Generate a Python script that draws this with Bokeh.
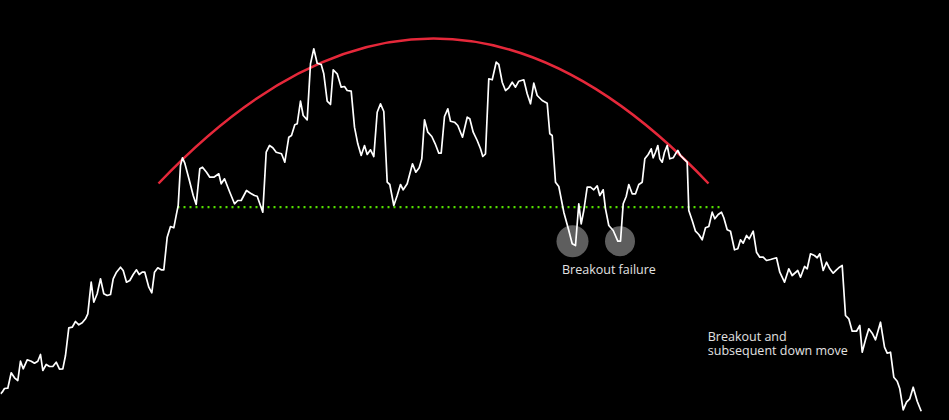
from bokeh.plotting import figure
from bokeh.models import Range1d, ColumnDataSource
from bokeh.core.properties import value
from bokeh.embed import file_html
from bokeh.resources import INLINE

# ---- price series (x position, price level) ----
x_pos = [0, 1.7, 4, 7.3, 10.7, 14, 17.3, 20, 22.7, 26.7, 30.7, 34, 37.3, 40, 42.3, 45.7, 49, 52.3, 55.7, 59,
         62.3, 65, 68.3, 71.7, 75, 78.3, 81.7, 85, 87.3, 90.7, 93.3, 96.7, 100, 103.3, 106.7, 110, 112.7, 116,
         120, 122.7, 126, 129.3, 132.7, 136, 138.7, 141.7, 144.3, 148.3, 151.3, 154, 157.3, 160.7, 163.3,
         166.7, 170, 173.3, 176, 177.7, 180, 182, 184.3, 188.7, 192.7, 195.7, 199.3, 202, 206, 209.3, 213.3,
         218.3, 220.7, 224, 229.3,
         234, 237.3, 240.7, 246, 250, 254, 256.7, 262.3, 265.7, 269, 272.3, 275.7, 281, 284.3, 288.3, 291,
         294.3, 296.7, 300, 302.7, 306.7, 310, 313.3, 316.7, 320.7, 323.3, 326.7, 330, 332.7, 336.7, 340.7,
         344, 346.7, 350.7, 354, 357.3, 360.7, 364, 366.7, 370, 373.3, 376.7, 380, 383.3, 386.7, 389.3, 393.3,
         396.7, 400, 402.7, 406.7, 412, 415.3, 418.7, 421.3, 424, 427.3, 431.3, 434.7, 438.3, 440.7, 444,
         447.3, 450, 454, 457.3, 462,
         466.7, 469.3, 472.7, 476.7, 480, 482.3, 485, 488.3, 491.7, 495.7, 498.3, 501.7, 505, 508.3, 511.7,
         515, 518.3, 523.3, 526.7, 530, 533.3, 536.7, 541.7, 546.7, 549.3, 551.7, 555, 558.3, 563.3, 568.3,
         571.7, 575, 578.3, 580.7, 583.3, 586.7, 590, 593.3, 596.7, 599.3, 602.7, 605, 608.3, 612.7, 617.3,
         620, 622.7, 625.7, 628.3, 631.7, 635, 638.3, 641.7, 644.3, 647.7, 650.7, 652.7, 655, 657.3, 659.3,
         661.7, 664, 666.7, 669.3, 672.7, 675, 677.3, 680, 683.3, 686.7,
         688.3, 691.7, 695, 698.3, 701.7, 705, 708.3, 711.7, 714.3, 717.7, 721, 723.3, 726.7, 730, 734,
         737.3, 740, 742.7, 746, 748.7, 752.7, 756, 759.3, 762.7, 766, 770, 776, 779.3, 784, 788.3, 791.7,
         797.3, 800, 804, 806.7, 810, 814, 816.7, 819.3, 822.7, 826, 829.3, 832.7, 836, 839, 841.7, 845,
         848.3, 851.7, 856, 859.3, 861.7, 865, 868.3, 871.7, 875, 880, 884, 886.7, 890, 893.3, 896.7, 899.3,
         902.7, 906, 909.3, 912.7, 916.7, 920.7]

price = [26.7, 28.3, 32, 32.3, 47.7, 42.7, 40, 59.3, 51.7, 60.7, 59.3, 57.3, 59.3, 66, 50, 56, 54, 54, 58.3, 51.3,
         51.7, 65, 92.7, 93.3, 99, 95.7, 97.7, 101.7, 106.7, 138.3, 118.3, 126.7, 141.7, 126.7, 125, 126, 141.7,
         148.3, 153.3, 150, 138.3, 140, 146, 150.7, 146, 148.3, 148.3, 133.3, 127.7, 148.3, 152.7, 150.7, 150.7,
         183.3, 194, 192.7, 206.7, 215, 255, 262.7, 257.3, 240.7, 225, 216, 251.7, 253.3, 248.3, 243.3, 243.3,
         246.7, 236.7, 241.7, 228.3,
         216.7, 220, 220, 230, 227.3, 225, 224.3, 208.3, 268.3, 275, 272.7, 268.3, 266.7, 258.3, 283.3, 285,
         295.7, 296.7, 319.3, 305, 300.7, 356.7, 371.7, 357.3, 356, 346.7, 319.3, 316, 350.7, 346.7, 333.3,
         334, 330, 329.3, 293.3, 276.7, 265, 275, 266, 270.7, 264, 308.3, 316.7, 309, 238.3, 236, 215,
         225, 236, 230.7, 236.7, 256.7, 248.3, 252.7, 261.7, 300.7, 288.3, 284, 276.7, 267.3, 267.3, 304,
         311.7, 299.3, 298.3, 295, 283.3,
         303.3, 301.7, 288.3, 280, 271.7, 264, 266.7, 341.7, 340.7, 358.3, 356, 338.3, 330, 332.7, 338.3,
         333.3, 339.3, 340.7, 326.7, 316.7, 337.3, 325, 320, 317.3, 286.7, 285, 238.3, 234, 208.3, 190,
         176.7, 175, 216.7, 196.7, 210, 233.3, 233.3, 230.7, 234.7, 225, 230.7, 211.7, 195, 190, 179.3,
         179.3, 216.7, 224, 236, 226.7, 226.7, 236, 238.3, 261.7, 266, 271.7, 262.7, 268.3, 275, 261.7,
         258.3, 268.3, 275, 261.7, 262.7, 266.7, 270, 265, 261.7, 258.3,
         210, 200, 189.3, 186, 180.7, 192.7, 194, 208.3, 201.7, 206, 208.3, 202.7, 190.7, 189.3, 170.7,
         171.7, 180.7, 177.3, 185, 181.7, 189.3, 168.3, 163.3, 163.3, 160, 161, 162.7, 148.3, 138.3, 151.7, 145,
         150, 143.3, 154, 151.7, 166.7, 165, 162.7, 166.7, 150, 158.3, 151.7, 147.3, 150.7, 153.3, 155, 105,
         101.7, 89.3, 89.3, 95, 68.3, 80.7, 91.7, 87.3, 80.7, 98.3, 73.3, 67.3, 68.3, 43.3, 39.3, 31.7,
         10.7, 18.3, 21.7, 33.3, 19.3, 9.3]

# ---- pattern annotations ----
support_level = 213.3            # neckline (green dotted)
support_x = [177, 722]
arc_start = (158, 237)           # rounding-top arc ends and control point
arc_end = (708, 237)
arc_ctrl = (433, 527)
fail_x = [572, 619.5]            # breakout failure lows
fail_y = [179.3, 179.3]
fail_r = [16, 15]

labels = ["Breakout failure", "Breakout and", "subsequent down move"]
label_x = [561.5, 707.3, 707.3]
label_y = [150.7, 84.2, 70.0]

W, H = 949, 420
p = figure(width=W, height=H, output_backend="svg", toolbar_location=None,
           x_axis_type=None, y_axis_type=None, min_border=0,
           x_range=Range1d(0, W), y_range=Range1d(0, H))
p.background_fill_color = "#000000"
p.border_fill_color = "#000000"
p.outline_line_color = None
p.grid.visible = False

p.circle(x=fail_x, y=fail_y, radius=fail_r, fill_color="#5e5e5e", line_color=None)

p.line(x=support_x, y=[support_level, support_level], line_color="#55E000",
       line_width=2.2, line_dash="2 4")

p.quadratic(x0=[arc_start[0]], y0=[arc_start[1]], x1=[arc_end[0]], y1=[arc_end[1]],
            cx=[arc_ctrl[0]], cy=[arc_ctrl[1]], line_color="#E5283A", line_width=2.5)

p.line(x=x_pos, y=price, line_color="#FFFFFF", line_width=1.7, line_join="round")

src = ColumnDataSource(dict(x=label_x, y=label_y, t=labels))
p.text(x="x", y="y", text="t", source=src, text_color="#E2E2E2",
       text_font=value("Open Sans"), text_font_size="12.5px",
       text_align="left", text_baseline="middle")

tmpl = """{% block preamble %}<style>html, body { background: #000000; margin: 0; overflow: hidden; }</style>{% endblock %}"""
open("out.html", "w").write(file_html(p, INLINE, template=tmpl))
